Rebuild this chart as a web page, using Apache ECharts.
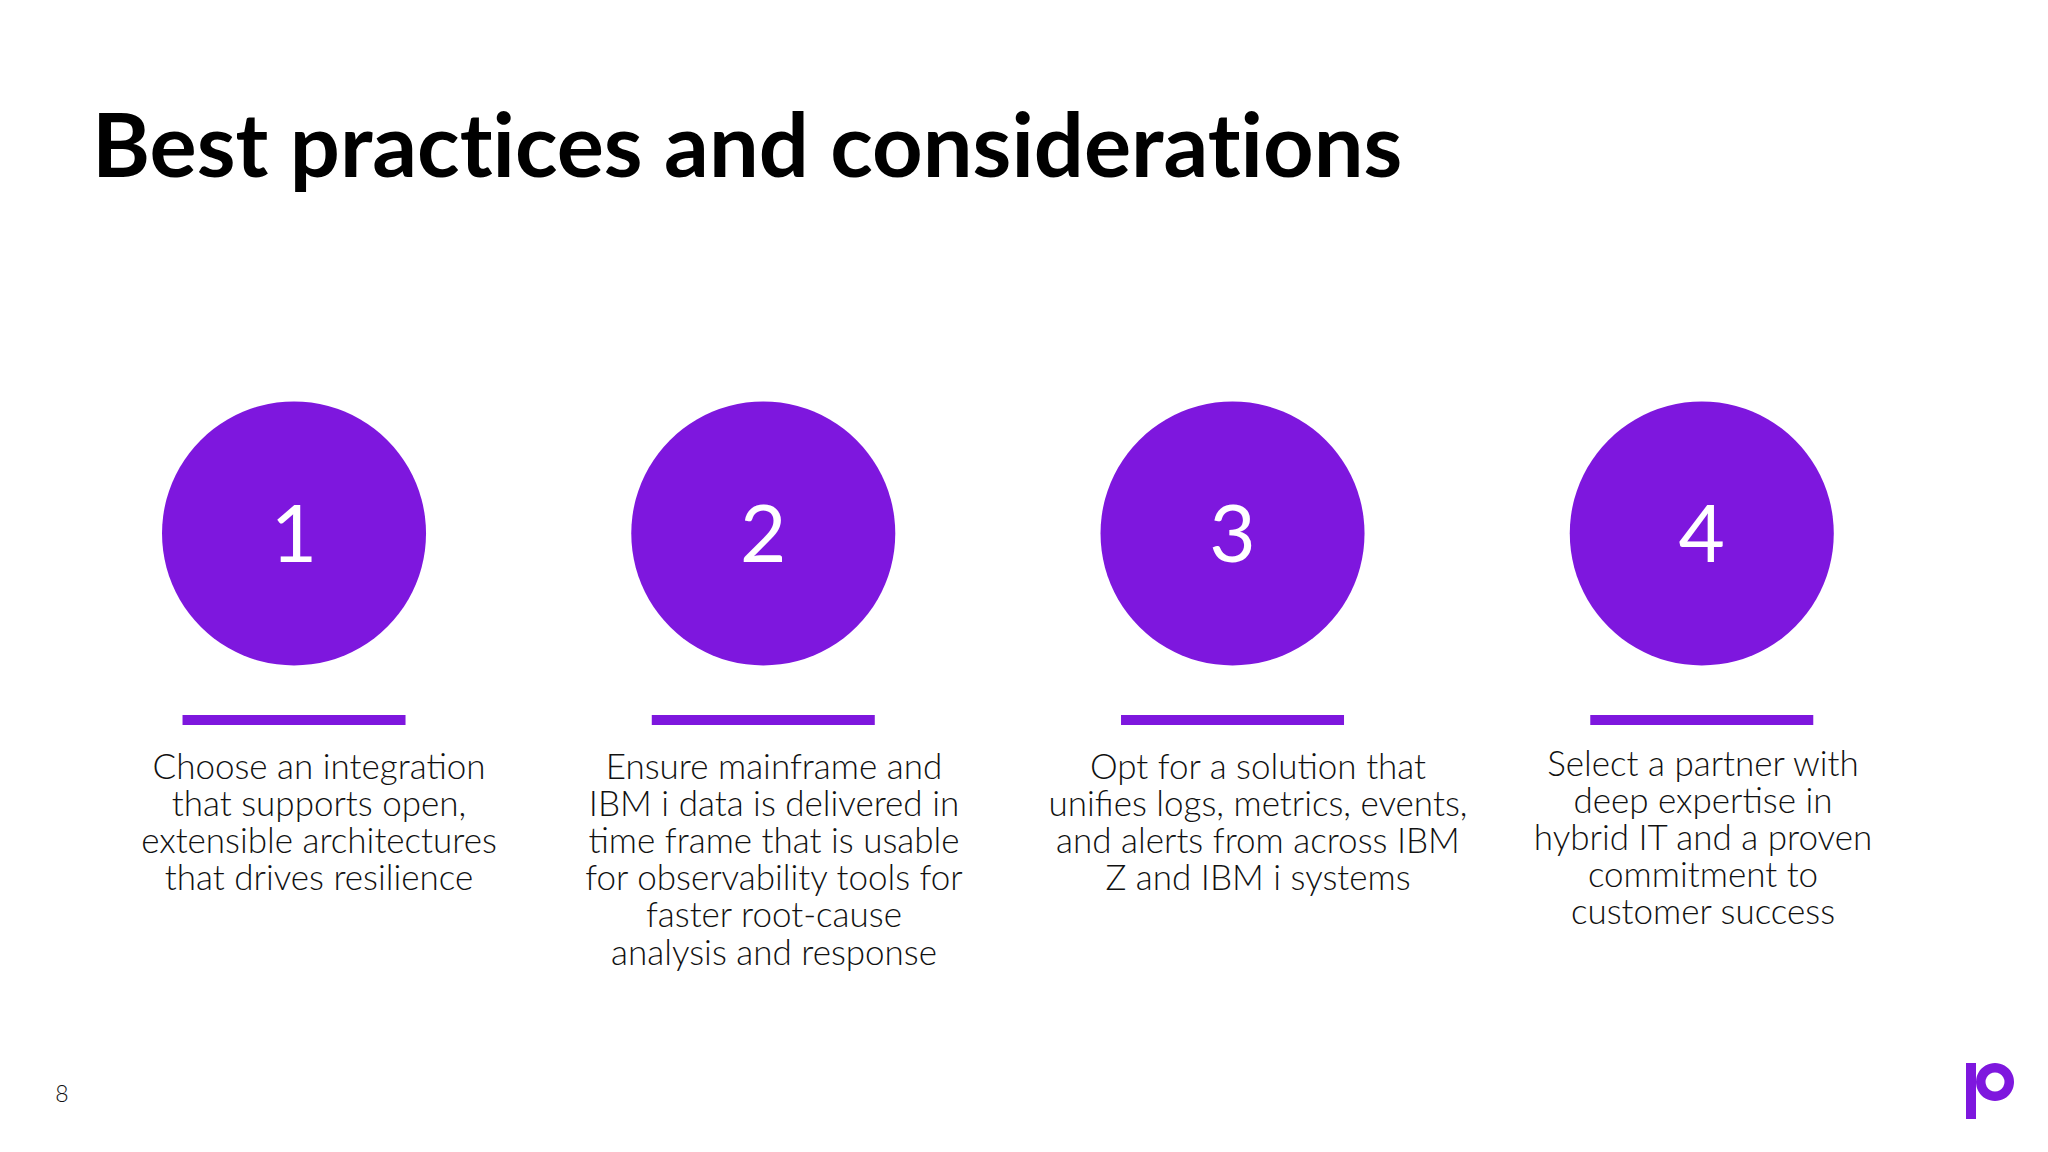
<!DOCTYPE html>
<html>
<head>
<meta charset="utf-8">
<title>Best practices and considerations</title>
<script src="https://cdn.jsdelivr.net/npm/echarts@6/dist/echarts.min.js"></script>
<style>
    html, body { margin: 0; padding: 0; background: #fff; }
    #main { width: 2048px; height: 1152px; }
    /* the slide font has no ti / fi ligatures */
    #main text { font-variant-ligatures: none; }
</style>
</head>
<body>
<div id="main"></div>
<script>
    "use strict";
    var PURPLE = '#7e17de';
    var FONT = 'Lato';

    var heading = 'Best practices and considerations';
    var pageNumber = '8';
    var steps = ['1', '2', '3', '4'];
    var descriptions = [
        ['Choose an integration', 'that supports open,', 'extensible architectures', 'that drives resilience'],
        ['Ensure mainframe and', 'IBM i data is delivered in', 'time frame that is usable', 'for observability tools for', 'faster root-cause', 'analysis and response'],
        ['Opt for a solution that', 'unifies logs, metrics, events,', 'and alerts from across IBM', 'Z and IBM i systems'],
        ['Select a partner with', 'deep expertise in', 'hybrid IT and a proven', 'commitment to', 'customer success']
    ];
    // text blocks are not quite centred under their circles
    var textCenters = [319, 774, 1258, 1703];
    var textTops = [746, 746, 746, 743];

    var chart = echarts.init(document.getElementById('main'), null, {renderer: 'svg'});

    var textBlocks = descriptions.map(function (lines, i) {
        return {
            type: 'text',
            x: textCenters[i],
            y: textTops[i],
            style: {
                text: lines.join('\n'),
                font: '300 35px ' + FONT,
                lineHeight: 37.2,
                fill: '#111111',
                align: 'center',
                verticalAlign: 'top'
            }
        };
    });

    chart.setOption({
        backgroundColor: '#ffffff',
        animation: false,
        title: {
            text: heading,
            left: 87,
            top: 94,
            textStyle: {color: '#000000', fontFamily: FONT, fontWeight: 700, fontSize: 88.3}
        },
        // one band per step, y axis runs in page pixels
        grid: {left: 59.4, right: 111.6, top: 0, bottom: 0},
        xAxis: {type: 'category', data: steps, show: false},
        yAxis: {type: 'value', min: 0, max: 1152, inverse: true, show: false},
        series: [
            {
                name: 'circles',
                type: 'scatter',
                symbol: 'circle',
                symbolSize: 264,
                itemStyle: {color: PURPLE, opacity: 1},
                label: {
                    show: true,
                    position: 'inside',
                    offset: [0, -3],
                    formatter: '{b}',
                    color: '#ffffff',
                    fontFamily: FONT,
                    fontWeight: 400,
                    fontSize: 80
                },
                data: steps.map(function (s) { return [s, 533.5]; })
            },
            {
                name: 'rules',
                type: 'scatter',
                symbol: 'rect',
                symbolSize: [223, 10],
                itemStyle: {color: PURPLE, opacity: 1},
                data: steps.map(function (s) { return [s, 720]; })
            }
        ],
        graphic: textBlocks.concat([
            {
                type: 'text',
                x: 62,
                y: 1093,
                style: {
                    text: pageNumber,
                    font: '300 23px ' + FONT,
                    fill: '#111111',
                    align: 'center',
                    verticalAlign: 'middle'
                }
            },
            {type: 'rect', shape: {x: 1966, y: 1063, width: 10, height: 56}, style: {fill: PURPLE}},
            {type: 'ring', shape: {cx: 1995, cy: 1082, r: 19, r0: 9.5}, style: {fill: PURPLE}}
        ])
    });
</script>
</body>
</html>
